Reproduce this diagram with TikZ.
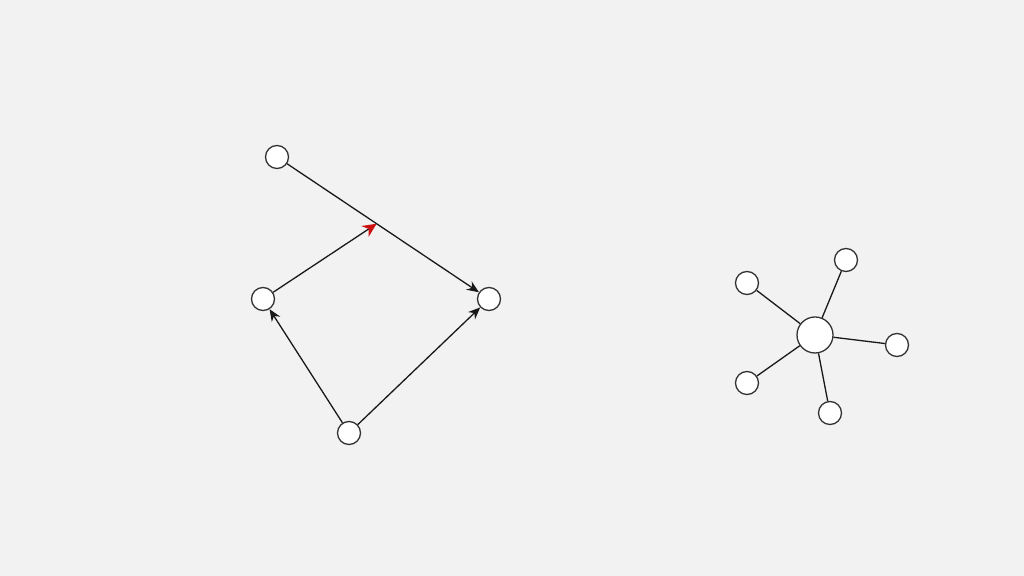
\documentclass[tikz,border=0pt]{standalone}
\usetikzlibrary{arrows.meta,calc}
\definecolor{bg}{HTML}{F2F2F2}
\definecolor{tipred}{HTML}{CC1111}
\tikzset{
  vert/.style={circle,draw=black!80,fill=white,line width=0.65pt,minimum size=11.5pt,inner sep=0pt},
  hub/.style={circle,draw=black!80,fill=white,line width=0.65pt,minimum size=18pt,inner sep=0pt},
  edge/.style={line width=0.65pt,black!90},
  arr/.style={edge,-{Stealth[length=6pt,width=5pt]}},
  redarr/.style={edge,-{Stealth[length=7pt,width=6.5pt,color=tipred]}}
}
\begin{document}
\begin{tikzpicture}[x=0.5pt,y=-0.5pt]
\fill[bg] (0,0) rectangle (1024,576);
\useasboundingbox (0,0) rectangle (1024,576);
\node[vert] (A) at (277,157) {};
\node[vert] (B) at (263,299) {};
\node[vert] (C) at (489,299) {};
\node[vert] (D) at (349,433) {};
\coordinate (J) at ($(A)!0.47!(C)$);
\draw[arr] (A) -- (C);
\draw[redarr] (B) -- (J);
\draw[arr] (D) -- (B);
\draw[arr] (D) -- (C);
\node[hub] (H) at (815,335) {};
\node[vert] (L1) at (747,283) {};
\node[vert] (L2) at (846,260) {};
\node[vert] (L3) at (897,345) {};
\node[vert] (L4) at (747,383) {};
\node[vert] (L5) at (830,413) {};
\foreach \l in {L1,L2,L3,L4,L5} \draw[edge] (H) -- (\l);
\end{tikzpicture}
\end{document}
